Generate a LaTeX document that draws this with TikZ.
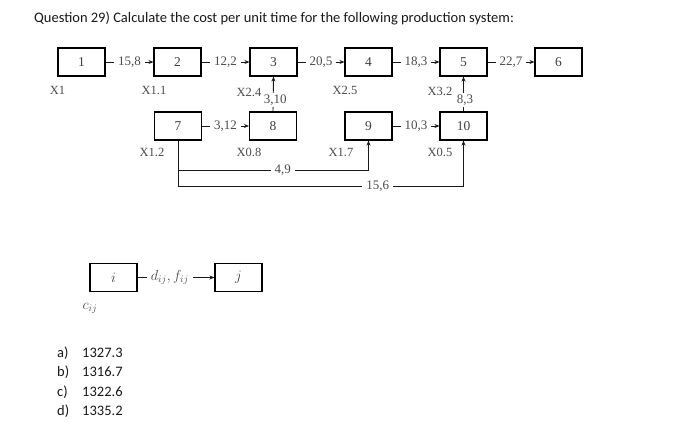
\documentclass[tikz,border=0pt]{standalone}
\usepackage{fontspec}
\setmainfont{Carlito}
\newfontfamily\lbl{Liberation Serif}
\usetikzlibrary{arrows.meta}
\begin{document}
\begin{tikzpicture}[x=1pt,y=-1pt,
 stationbox/.style={draw=black,line width=1.1pt,minimum width=47pt,minimum height=28pt,inner sep=0pt,font=\lbl\fontsize{13.5}{15}\selectfont,text=black!75},
 flow/.style={draw=black!90,line width=0.9pt,-{Stealth[length=5pt,width=4pt]}},
 elabel/.style={fill=white,inner xsep=4pt,inner ysep=2pt,font=\lbl\fontsize{13}{15}\selectfont,text=black!70},
 xlabel/.style={font=\lbl\fontsize{12.5}{15}\selectfont,text=black!70,inner sep=0pt},
 plain/.style={font=\fontsize{14.5}{17}\selectfont,text=black!90,inner sep=0pt,anchor=base west},
]
\useasboundingbox[fill=white] (0,0) rectangle (692,423);
\node[plain] (title) at (34,22) {Question 29) Calculate the cost per unit time for the following production system:};

% row 1
\node[stationbox] (b1) at (81.5,62) {1};
\node[stationbox] (b2) at (177.5,62) {2};
\node[stationbox] (b3) at (273.5,62) {3};
\node[stationbox] (b4) at (368.5,62) {4};
\node[stationbox] (b5) at (463.5,62) {5};
\node[stationbox] (b6) at (558.5,62) {6};
% row 2
\node[stationbox] (b7) at (178,126) {7};
\node[stationbox] (b8) at (273,126) {8};
\node[stationbox] (b9) at (368.5,126) {9};
\node[stationbox] (b10) at (463.5,126) {10};

% cost labels
\node[xlabel] (c1) at (57.5,90) {X1};
\node[xlabel] (c2) at (154,90) {X1.1};
\node[xlabel] (c3) at (249,92) {X2.4};
\node[xlabel] (c4) at (345,90) {X2.5};
\node[xlabel] (c5) at (440,91) {X3.2};
\node[xlabel] (c7) at (152,152) {X1.2};
\node[xlabel] (c8) at (249,152) {X0.8};
\node[xlabel] (c9) at (341,152) {X1.7};
\node[xlabel] (c10) at (440,152) {X0.5};

% flows
\draw[flow] (b1) -- node[elabel] {15,8} (b2);
\draw[flow] (b2) -- node[elabel] {12,2} (b3);
\draw[flow] (b3) -- node[elabel] {20,5} (b4);
\draw[flow] (b4) -- node[elabel] {18,3} (b5);
\draw[flow] (b5) -- node[elabel] {22,7} (b6);
\draw[flow] (b7) -- node[elabel] {3,12} (b8);
\draw[flow] (b9) -- node[elabel] {10,3} (b10);
\draw[flow] (b8.north) -- node[elabel,inner xsep=0.5pt,pos=0.33,xshift=2pt] {3,10} (b3.south);
\draw[flow] (b10.north) -- node[elabel,inner xsep=0.5pt,pos=0.33,xshift=1.5pt] {8,3} (b5.south);

\coordinate (ya) at (0,170);
\coordinate (yb) at (0,186.5);
\draw[flow] (b7.south) -- (b7.south |- ya) -- node[elabel,pos=0.55] {4,9} (b9.south |- ya) -- (b9.south);
\draw[flow] (b7.south) -- (b7.south |- yb) -- node[elabel,pos=0.7] {15,6} (b10.south |- yb) -- (b10.south);

% legend
\node[stationbox,font=\fontsize{13.5}{15}\selectfont] (li) at (113.5,277.5) {$i$};
\node[stationbox,font=\fontsize{13.5}{15}\selectfont] (lj) at (238.5,277.5) {$j$};
\draw[flow] (li) -- node[elabel,pos=0.42,font=\fontsize{14}{16}\selectfont] {$d_{ij}, f_{ij}$} (lj);
\node[xlabel,font=\fontsize{14}{16}\selectfont] (lc) at (90,308) {$c_{ij}$};

% answers
\node[plain] (qa) at (57,357) {a)};
\node[plain] (va) at (82,357) {1327.3};
\node[plain] (qb) at (57,376.5) {b)};
\node[plain] (vb) at (82,376.5) {1316.7};
\node[plain] (qc) at (57,396) {c)};
\node[plain] (vc) at (82,396) {1322.6};
\node[plain] (qd) at (57,415.5) {d)};
\node[plain] (vd) at (82,415.5) {1335.2};
\end{tikzpicture}
\end{document}
